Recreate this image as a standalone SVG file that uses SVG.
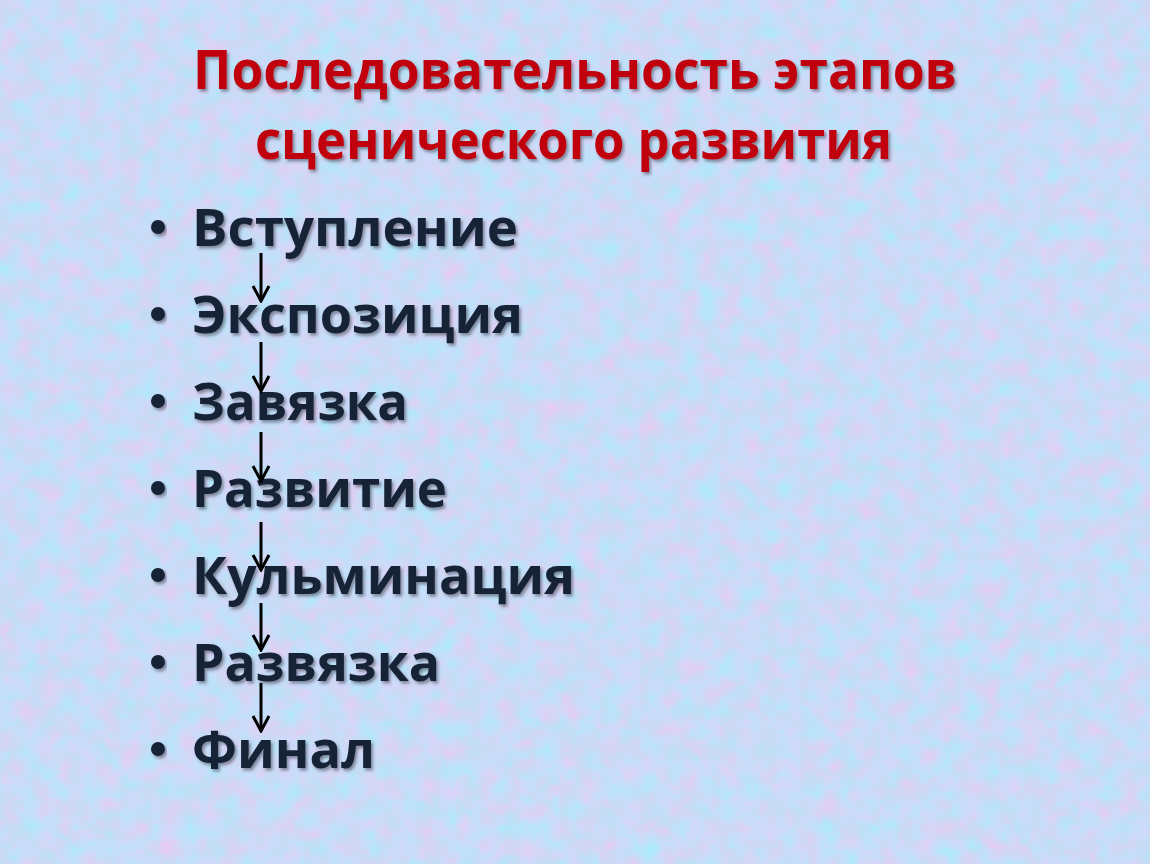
<svg xmlns="http://www.w3.org/2000/svg" width="1150" height="864" viewBox="0 0 1150 864">
<style>
  .title { font-family: "Open Sans", "Liberation Sans", sans-serif; font-weight: bold; font-size: 54px; fill: #c0000c; filter: url(#shadow); }
  .item { font-family: "Open Sans", "Liberation Sans", sans-serif; font-weight: bold; font-size: 52px; fill: #142036; filter: url(#shadow); }
  .bullet { fill: #142036; filter: url(#shadow); }
  .conn { stroke: #000; stroke-width: 3; fill: none; }
</style>
<defs>
  <filter id="tex" x="0" y="0" width="100%" height="100%" color-interpolation-filters="sRGB">
    <feTurbulence type="fractalNoise" baseFrequency="0.05" numOctaves="4" seed="7"/>
    <feColorMatrix type="matrix" values="0.22 -0.12 0 0 0.74  -0.1 0.08 0 0 0.87  0 0.06 0 0 0.94  0 0 0 0 1"/>
  </filter>
  <filter id="shadow" x="-10%" y="-20%" width="120%" height="150%">
    <feDropShadow dx="2" dy="2.5" stdDeviation="1.5" flood-color="#404050" flood-opacity="0.55"/>
  </filter>
  <marker id="arr" viewBox="0 0 20 20" refX="18" refY="10" markerWidth="20" markerHeight="20" markerUnits="userSpaceOnUse" orient="auto">
    <path d="M3 2 L18 10 L3 18" stroke="#000" stroke-width="3" fill="none"/>
  </marker>
</defs>
<rect x="0" y="0" width="1150" height="864" fill="#c4d8ef"/>
<rect x="0" y="0" width="1150" height="864" filter="url(#tex)"/>

<g id="title">
  <text class="title" x="193" y="89" textLength="764" lengthAdjust="spacingAndGlyphs">Последовательность этапов</text>
  <text class="title" x="255" y="159" textLength="637" lengthAdjust="spacingAndGlyphs">сценического развития</text>
</g>

<g id="n1"><circle class="bullet" cx="158" cy="227" r="7"/><text class="item" x="192" y="246" textLength="326" lengthAdjust="spacingAndGlyphs">Вступление</text></g>
<g id="n2"><circle class="bullet" cx="158" cy="314" r="7"/><text class="item" x="192" y="333" textLength="331" lengthAdjust="spacingAndGlyphs">Экспозиция</text></g>
<g id="n3"><circle class="bullet" cx="158" cy="401" r="7"/><text class="item" x="192" y="420" textLength="216" lengthAdjust="spacingAndGlyphs">Завязка</text></g>
<g id="n4"><circle class="bullet" cx="158" cy="488" r="7"/><text class="item" x="192" y="507" textLength="255" lengthAdjust="spacingAndGlyphs">Развитие</text></g>
<g id="n5"><circle class="bullet" cx="158" cy="575" r="7"/><text class="item" x="192" y="594" textLength="383" lengthAdjust="spacingAndGlyphs">Кульминация</text></g>
<g id="n6"><circle class="bullet" cx="158" cy="662" r="7"/><text class="item" x="192" y="681" textLength="248" lengthAdjust="spacingAndGlyphs">Развязка</text></g>
<g id="n7"><circle class="bullet" cx="158" cy="749" r="7"/><text class="item" x="192" y="768" textLength="183" lengthAdjust="spacingAndGlyphs">Финал</text></g>

<g id="connectors">
  <line class="conn" x1="261" y1="253" x2="261" y2="301" marker-end="url(#arr)"/>
  <line class="conn" x1="261" y1="342" x2="261" y2="391" marker-end="url(#arr)"/>
  <line class="conn" x1="261" y1="432" x2="261" y2="481" marker-end="url(#arr)"/>
  <line class="conn" x1="261" y1="522" x2="261" y2="570" marker-end="url(#arr)"/>
  <line class="conn" x1="261" y1="603" x2="261" y2="650" marker-end="url(#arr)"/>
  <line class="conn" x1="261" y1="683" x2="261" y2="731" marker-end="url(#arr)"/>
</g>
</svg>
